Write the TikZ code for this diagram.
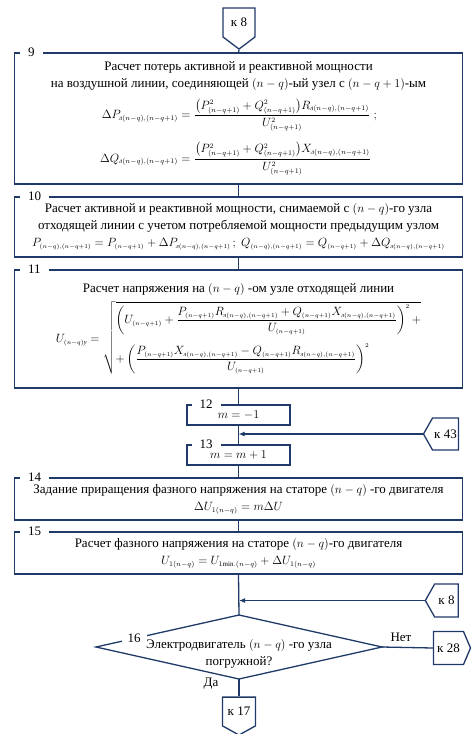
\documentclass[tikz,border=0pt]{standalone}
\usepackage{amsmath}
\usepackage{fontspec}
\setmainfont{Liberation Serif}
\DeclareMathSizes{13}{12.5}{7}{5}
\DeclareMathSizes{11.5}{11.5}{6.3}{5}
\usetikzlibrary{shapes.symbols,arrows.meta,positioning,calc}
\definecolor{BlockNavy}{HTML}{1F3A68}
\newcommand{\linesub}{\textit{л}}
\newcommand{\nodesub}{\textit{у}}
\newcommand{\formsize}{\fontsize{11.5}{15}\selectfont}

\begin{document}
\begin{tikzpicture}[x=1pt, y=-1pt,
    font=\fontsize{13}{17}\selectfont,
    blk/.style={draw=BlockNavy, line width=1.3pt, align=center, inner sep=0pt},
    num/.style={fill=white, anchor=west, inner xsep=8pt, inner ysep=1pt, xshift=6pt},
    link/.style={draw=BlockNavy, line width=1.3pt},
    ptr/.style={signal, draw=BlockNavy, line width=1.3pt, fill=white, signal from=nowhere, inner sep=0pt}
]
  \useasboundingbox (0,0) rectangle (474,734);

  % Переход сверху
  \node[ptr, signal to=south, minimum width=32pt, minimum height=35pt, signal pointer angle=106] (k8a) at (239,22.5) {к 8};

  % Блок 9
  \node[blk, minimum width=448pt, minimum height=131pt] (b9) at (238.5,118.5) {
    Расчет потерь активной и реактивной мощности\\
    на воздушной линии, соединяющей $(n-q)$-ый узел с $(n-q+1)$-ым\\[7pt]
    $\begin{aligned}
      \Delta P_{\linesub(n-q),(n-q+1)} &= \frac{\bigl(P^2_{(n-q+1)}+Q^2_{(n-q+1)}\bigr)R_{\linesub(n-q),(n-q+1)}}{U^2_{(n-q+1)}}\;;\\[7pt]
      \Delta Q_{\linesub(n-q),(n-q+1)} &= \frac{\bigl(P^2_{(n-q+1)}+Q^2_{(n-q+1)}\bigr)X_{\linesub(n-q),(n-q+1)}}{U^2_{(n-q+1)}}
    \end{aligned}$
  };

  % Блок 10
  \node[blk, minimum width=448pt, minimum height=60pt] (b10) at (238.5,227) {
    Расчет активной и реактивной мощности, снимаемой с $(n-q)$-го узла\\
    отходящей линии с учетом потребляемой мощности предыдущим узлом\\
    {\formsize $P_{(n-q),(n-q+1)}=P_{(n-q+1)}+\Delta P_{\linesub(n-q),(n-q+1)}\,;\;
     Q_{(n-q),(n-q+1)}=Q_{(n-q+1)}+\Delta Q_{\linesub(n-q),(n-q+1)}$}
  };

  % Блок 11
  \node[blk, minimum width=448pt, minimum height=118pt] (b11) at (238.5,329) {
    Расчет напряжения на $(n-q)$ -ом узле отходящей линии\\[5pt]
    {\formsize $\displaystyle U_{(n-q)\nodesub}=\sqrt{\begin{array}{@{}l@{}}
      \left(U_{(n-q+1)}+\dfrac{P_{(n-q+1)}R_{\linesub(n-q),(n-q+1)}+Q_{(n-q+1)}X_{\linesub(n-q),(n-q+1)}}{U_{(n-q+1)}}\right)^{2}+\\[16pt]
      +\left(\dfrac{P_{(n-q+1)}X_{\linesub(n-q),(n-q+1)}-Q_{(n-q+1)}R_{\linesub(n-q),(n-q+1)}}{U_{(n-q+1)}}\right)^{2}
    \end{array}}$}
  };

  % Блоки 12 и 13
  \node[blk, minimum width=103pt, minimum height=20pt] (b12) at (238.5,415) {$m=-1$};
  \node[blk, minimum width=103pt, minimum height=20pt] (b13) at (238.5,455) {$m=m+1$};
  \node[ptr, signal to=west, minimum width=35pt, minimum height=32pt, signal pointer angle=121] (k43) at (445.5,434) {к 43};

  % Блоки 14 и 15
  \node[blk, minimum width=448pt, minimum height=42pt] (b14) at (238.5,499) {
    Задание приращения фазного напряжения на статоре $(n-q)$ -го двигателя\\
    $\Delta U_{1(n-q)}=m\Delta U$
  };
  \node[blk, minimum width=448pt, minimum height=42pt] (b15) at (238.5,553) {
    Расчет фазного напряжения на статоре $(n-q)$-го двигателя\\
    $U_{1(n-q)}=U_{1\mathrm{min.}(n-q)}+\Delta U_{1(n-q)}$
  };
  \node[ptr, signal to=west, minimum width=33pt, minimum height=33pt, signal pointer angle=121] (k8b) at (446.5,600.5) {к 8};

  % Решение 16
  \coordinate (d16top) at (239,615);
  \coordinate (d16bot) at (239,679);
  \coordinate (d16left) at (96,647);
  \coordinate (d16right) at (382,647);
  \draw[link] (d16top) -- (d16right) -- (d16bot) -- (d16left) -- cycle;
  \node[align=center] (q16) at (239,654) {Электродвигатель $(n-q)$ -го узла\\погружной?};
  \node[fill=white, inner xsep=6pt, inner ysep=1pt] (n16) at (134,638.5) {16};
  \node (no16) at (401,637) {Нет};
  \node (yes16) at (211,684) {Да};
  \node[ptr, signal to=east, minimum width=37pt, minimum height=33pt, signal pointer angle=134] (k28) at (448.5,648) {к 28};
  \node[ptr, signal to=south, minimum width=33pt, minimum height=35pt, signal pointer angle=122] (k17) at (239,711.5) {к 17};

  % Номера блоков
  \node[num] (n9) at (b9.north west) {9};
  \node[num] (n10) at (b10.north west) {10};
  \node[num] (n11) at (b11.north west) {11};
  \node[num, xshift=-1pt] (n12) at (b12.north west) {12};
  \node[num, xshift=-1pt] (n13) at (b13.north west) {13};
  \node[num] (n14) at (b14.north west) {14};
  \node[num] (n15) at (b15.north west) {15};

  % Связи
  \draw[link] (k8a.south) -- (b9.north);
  \draw[link] (b9.south) -- (b10.north);
  \draw[link] (b10.south) -- (b11.north);
  \draw[link] (b11.south) -- (b12.north);
  \draw[link] (b12.south) -- (b13.north);
  \draw[link, -{Latex[length=6pt, width=5pt]}] (k43.west) -- (k43.west -| b13.north);
  \draw[link] (b13.south) -- (b14.north);
  \draw[link] (b14.south) -- (b15.north);
  \draw[link] (b15.south) -- (d16top);
  \draw[link, -{Latex[length=6pt, width=5pt]}] (k8b.west) -- (k8b.west -| d16top);
  \draw[link] (d16right) -- (k28.west);
  \draw[link] (d16bot) -- (k17.north);

\end{tikzpicture}
\end{document}
